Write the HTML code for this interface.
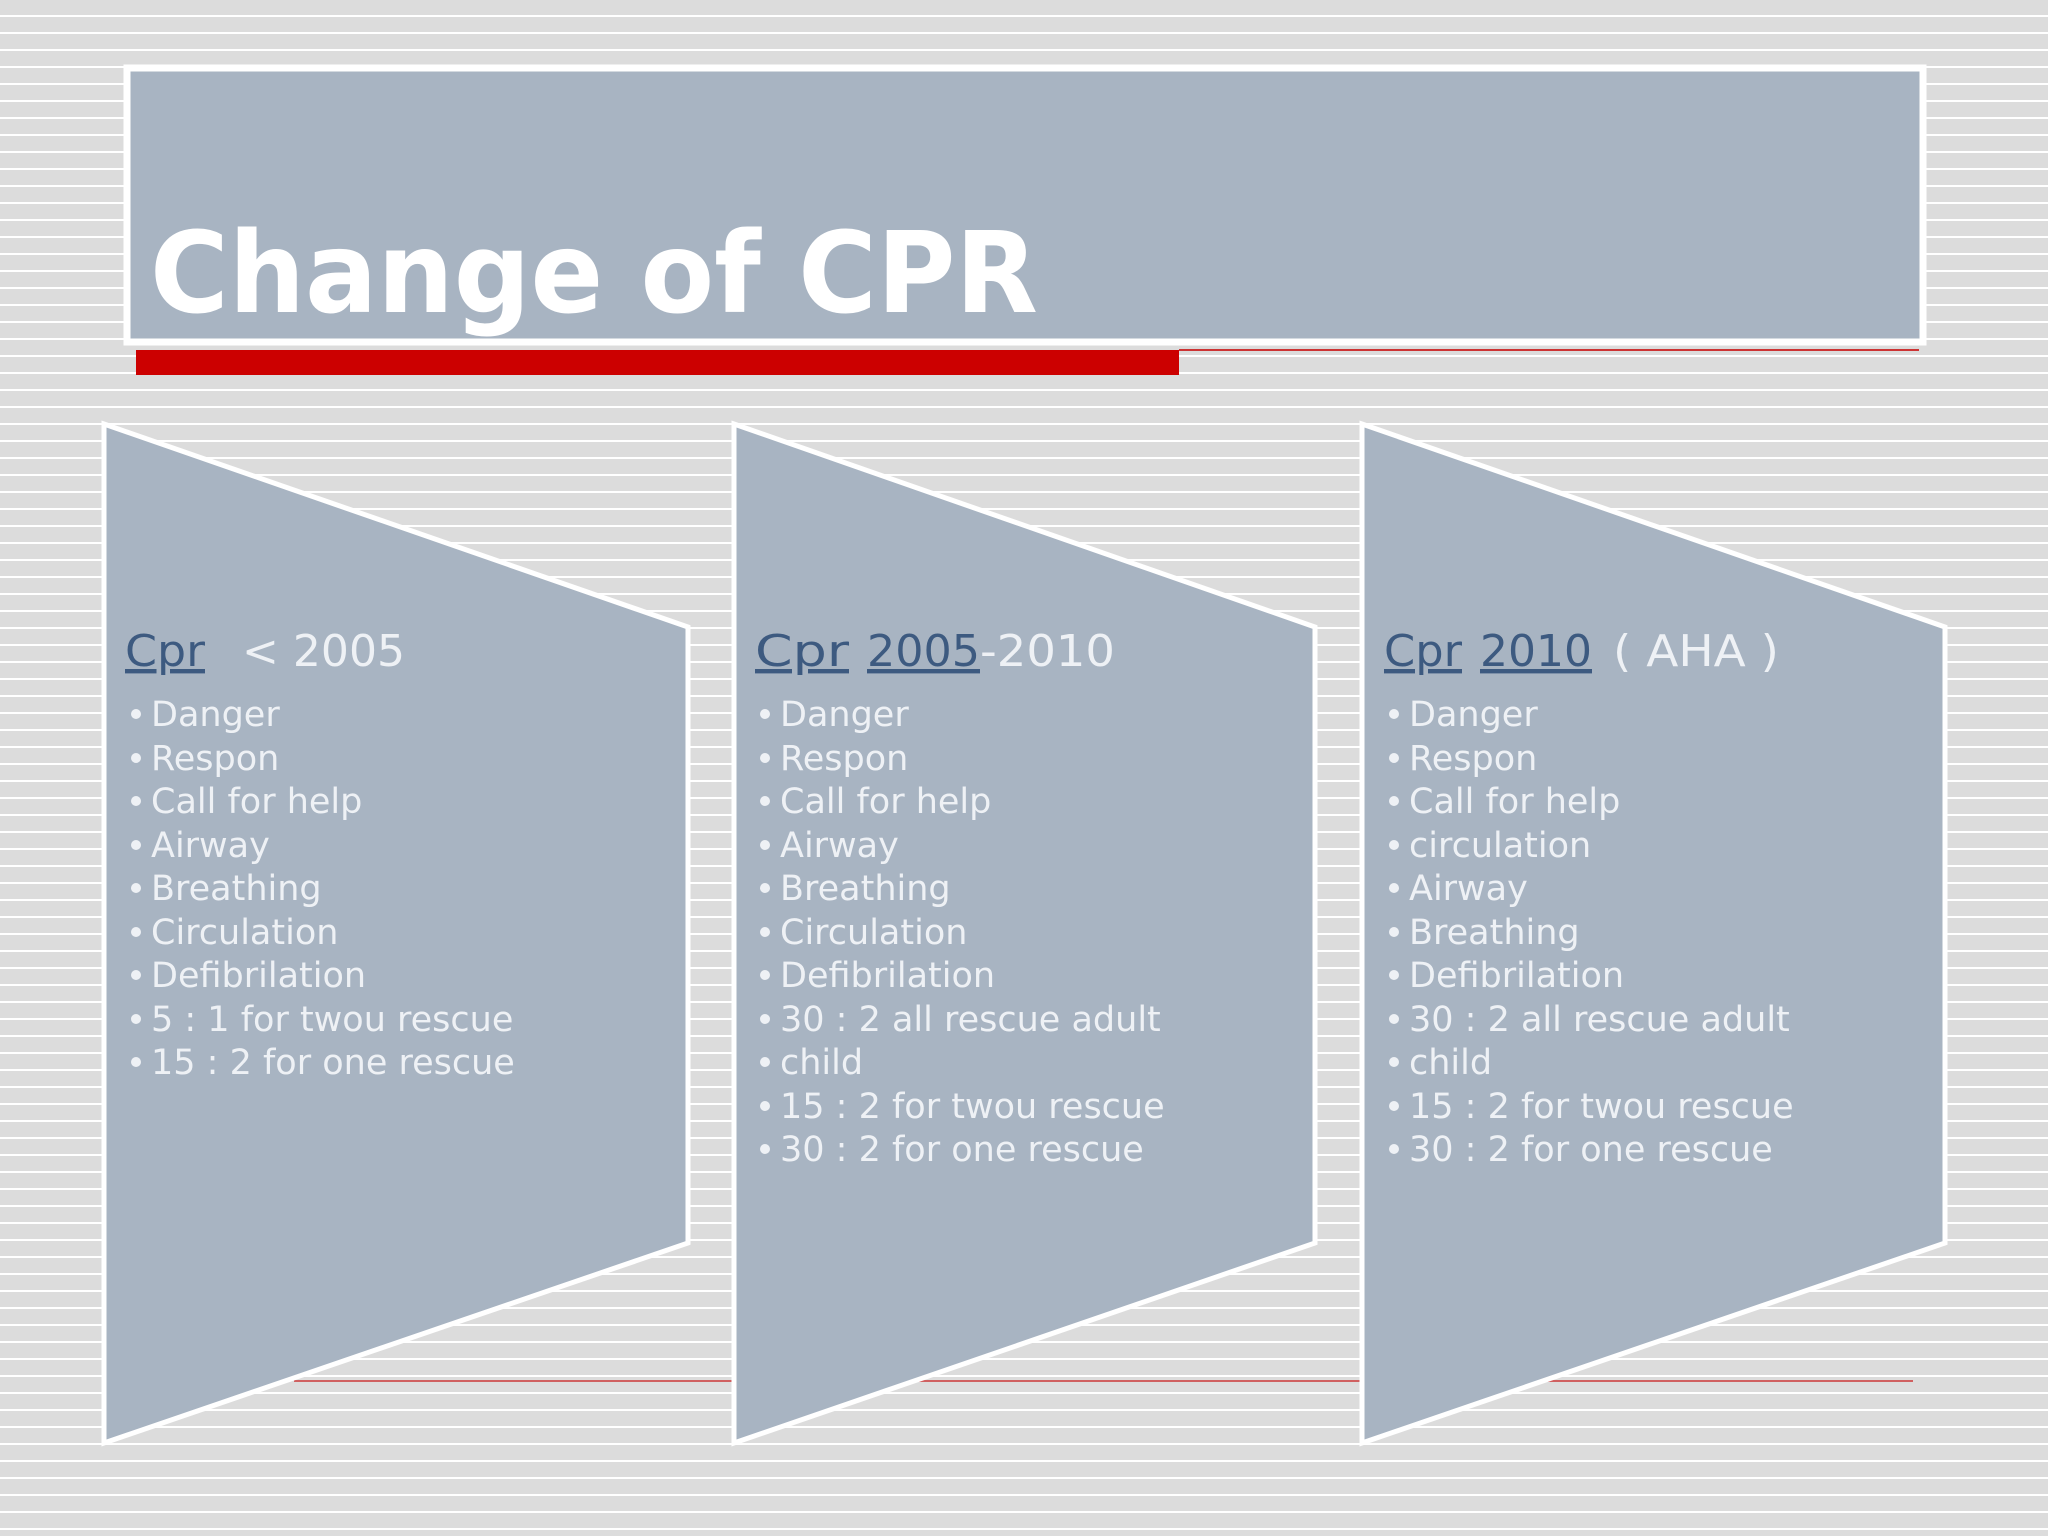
<!DOCTYPE html>
<html><head><meta charset="utf-8"><style>
html,body{margin:0;padding:0;background:#dcdcdc}
svg{display:block}
text{font-family:"DejaVu Sans","Liberation Sans",sans-serif}
</style></head><body>
<svg width="2048" height="1536" viewBox="0 0 2048 1536" xmlns="http://www.w3.org/2000/svg">
<defs>
<pattern id="st" width="20" height="17" patternUnits="userSpaceOnUse">
<rect width="20" height="17" fill="#dcdcdc"/><rect y="15" width="20" height="2" fill="#ffffff"/>
</pattern>
<g id="b"><circle r="5" fill="#eef1f5"/></g>
</defs>
<rect width="2048" height="1536" fill="url(#st)"/>
<g>
<rect x="127" y="68" width="1796" height="274" fill="#a8b4c2" stroke="#ffffff" stroke-width="7"/>
<text x="150" y="312" font-family="DejaVu Sans, sans-serif" font-weight="bold" font-size="112" fill="#ffffff" textLength="888" lengthAdjust="spacingAndGlyphs">Change of CPR</text>
</g>
<rect x="136" y="350" width="1043" height="25" fill="#cc0000"/>
<rect x="1179" y="349" width="740" height="2" fill="#cc3333"/>
<rect x="294" y="1380" width="1619" height="2" fill="#d06060"/>

<g>
<polygon points="104,424 688,627 688,1243 104,1443" fill="#a8b4c2" stroke="#ffffff" stroke-width="5"/>
<g font-size="44">
<text x="125" y="666" fill="#3d5a80" text-decoration="underline" textLength="80" lengthAdjust="spacingAndGlyphs">Cpr</text>
<text x="242" y="666" fill="#eef1f5" textLength="163" lengthAdjust="spacingAndGlyphs">&lt; 2005</text>
</g>
<g font-size="35" fill="#eef1f5">
<text x="151" y="726">Danger</text>
<text x="151" y="770">Respon</text>
<text x="151" y="813">Call for help</text>
<text x="151" y="857">Airway</text>
<text x="151" y="900">Breathing</text>
<text x="151" y="944">Circulation</text>
<text x="151" y="987">Defibrilation</text>
<text x="151" y="1031">5 : 1 for twou rescue</text>
<text x="151" y="1074">15 : 2 for one rescue</text>
</g>
<g><use href="#b" x="136" y="714"/><use href="#b" x="136" y="758"/><use href="#b" x="136" y="801"/><use href="#b" x="136" y="845"/><use href="#b" x="136" y="888"/><use href="#b" x="136" y="932"/><use href="#b" x="136" y="975"/><use href="#b" x="136" y="1019"/><use href="#b" x="136" y="1062"/></g>
</g>

<g>
<polygon points="734,424 1315,627 1315,1243 734,1443" fill="#a8b4c2" stroke="#ffffff" stroke-width="5"/>
<g font-size="44">
<text x="755" y="666" fill="#3d5a80" text-decoration="underline" textLength="94" lengthAdjust="spacingAndGlyphs">Cpr </text>
<text x="867" y="666" fill="#3d5a80" text-decoration="underline" textLength="113" lengthAdjust="spacingAndGlyphs">2005</text>
<text x="980" y="666" fill="#eef1f5" textLength="135" lengthAdjust="spacingAndGlyphs">-2010</text>
</g>
<g font-size="35" fill="#eef1f5">
<text x="780" y="726">Danger</text>
<text x="780" y="770">Respon</text>
<text x="780" y="813">Call for help</text>
<text x="780" y="857">Airway</text>
<text x="780" y="900">Breathing</text>
<text x="780" y="944">Circulation</text>
<text x="780" y="987">Defibrilation</text>
<text x="780" y="1031">30 : 2 all rescue adult</text>
<text x="780" y="1074">child</text>
<text x="780" y="1118">15 : 2 for twou rescue</text>
<text x="780" y="1161">30 : 2 for one rescue</text>
</g>
<g><use href="#b" x="765" y="714"/><use href="#b" x="765" y="758"/><use href="#b" x="765" y="801"/><use href="#b" x="765" y="845"/><use href="#b" x="765" y="888"/><use href="#b" x="765" y="932"/><use href="#b" x="765" y="975"/><use href="#b" x="765" y="1019"/><use href="#b" x="765" y="1062"/><use href="#b" x="765" y="1106"/><use href="#b" x="765" y="1149"/></g>
</g>

<g>
<polygon points="1362,424 1945,627 1945,1243 1362,1443" fill="#a8b4c2" stroke="#ffffff" stroke-width="5"/>
<g font-size="44">
<text x="1384" y="666" fill="#3d5a80" text-decoration="underline" textLength="78" lengthAdjust="spacingAndGlyphs">Cpr</text>
<text x="1480" y="666" fill="#3d5a80" text-decoration="underline" textLength="112" lengthAdjust="spacingAndGlyphs">2010</text>
<text x="1613" y="666" fill="#eef1f5" textLength="166" lengthAdjust="spacingAndGlyphs">( AHA )</text>
</g>
<g font-size="35" fill="#eef1f5">
<text x="1409" y="726">Danger</text>
<text x="1409" y="770">Respon</text>
<text x="1409" y="813">Call for help</text>
<text x="1409" y="857">circulation</text>
<text x="1409" y="900">Airway</text>
<text x="1409" y="944">Breathing</text>
<text x="1409" y="987">Defibrilation</text>
<text x="1409" y="1031">30 : 2 all rescue adult</text>
<text x="1409" y="1074">child</text>
<text x="1409" y="1118">15 : 2 for twou rescue</text>
<text x="1409" y="1161">30 : 2 for one rescue</text>
</g>
<g><use href="#b" x="1394" y="714"/><use href="#b" x="1394" y="758"/><use href="#b" x="1394" y="801"/><use href="#b" x="1394" y="845"/><use href="#b" x="1394" y="888"/><use href="#b" x="1394" y="932"/><use href="#b" x="1394" y="975"/><use href="#b" x="1394" y="1019"/><use href="#b" x="1394" y="1062"/><use href="#b" x="1394" y="1106"/><use href="#b" x="1394" y="1149"/></g>
</g>
</svg>
</body></html>
